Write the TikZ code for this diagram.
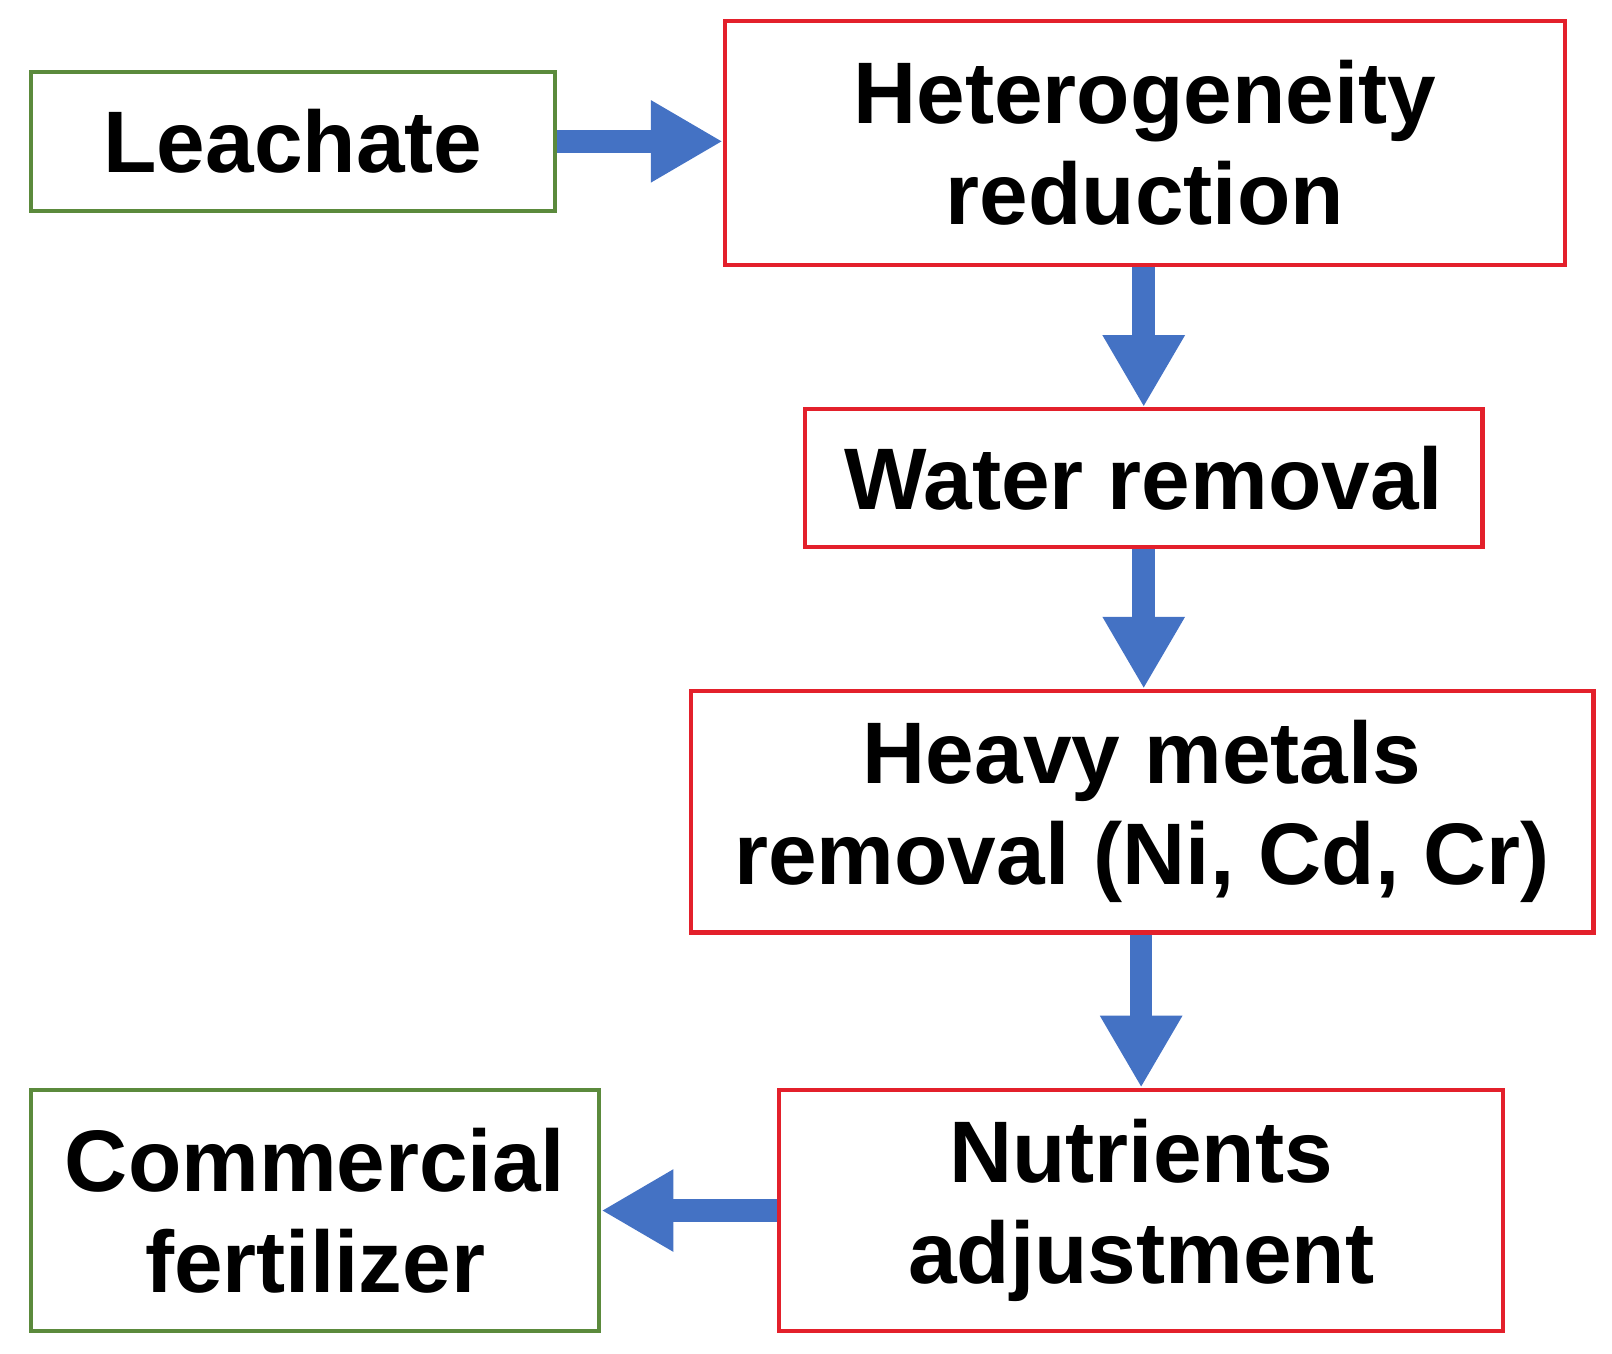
\documentclass[tikz,border=0pt]{standalone}
\usepackage{fontspec}
\setmainfont{Liberation Sans}
\usetikzlibrary{arrows.meta}
\definecolor{bred}{HTML}{E3202B}
\definecolor{bgreen}{HTML}{5B8A3C}
\definecolor{ablue}{HTML}{4472C4}
\begin{document}
\begin{tikzpicture}[x=1pt,y=-1pt,
 box/.style={draw=bred,line width=4pt,inner sep=0pt,font=\fontsize{85}{98}\selectfont\bfseries,align=center},
 gbox/.style={box,draw=bgreen},
 flow/.style={draw=ablue,line width=22pt,-{Triangle[width=75pt,length=70pt]}}]
\useasboundingbox (0,0) rectangle (1568,1317);
\node[gbox,minimum width=510pt,minimum height=135pt] (leach) at (285,137.5) {Leachate};
\node[box,minimum width=817pt,minimum height=238pt] (het) at (1113.5,139) {Heterogeneity\\reduction};
\node[box,minimum width=659pt,minimum height=134pt] (water) at (1112.5,465) {Water removal};
\node[box,minimum width=878pt,minimum height=235pt] (heavy) at (1111,789.5) {Heavy metals\\removal (Ni, Cd, Cr)};
\node[box,minimum width=704pt,minimum height=235pt] (nut) at (1110,1177.5) {Nutrients\\adjustment};
\node[gbox,minimum width=553pt,minimum height=235pt] (comm) at (306.5,1177.5) {Commercial\\fertilizer};
\draw[flow] (leach.east) -- (leach.east -| het.west);
\draw[flow] (het.south -| water.north) -- (water.north);
\draw[flow] (water.south) -- (water.south |- heavy.north);
\draw[flow] (heavy.south -| nut.north) -- (nut.north);
\draw[flow] (nut.west) -- (comm.east);
\end{tikzpicture}
\end{document}
